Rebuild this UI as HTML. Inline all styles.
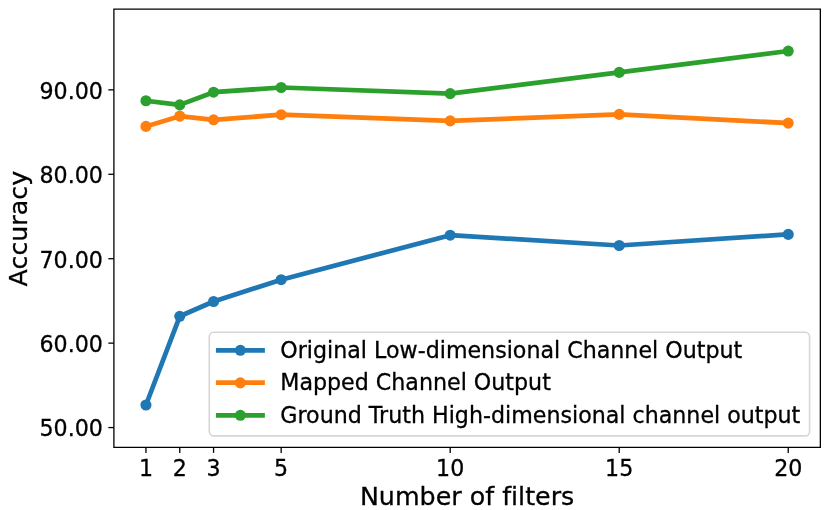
<!DOCTYPE html>
<html><head><meta charset="utf-8"><title>Accuracy vs Number of filters</title>
<style>
html,body{margin:0;padding:0;background:#fff;}
body{width:831px;height:510px;overflow:hidden;}
svg{display:block;}
text{font-family:"DejaVu Sans","Liberation Sans",sans-serif;fill:#000;stroke:#000;stroke-width:0.3px;font-variant-ligatures:none;font-feature-settings:"liga" 0,"clig" 0;}
.t{font-size:22.16px;}
.l{font-size:25.33px;}
</style></head><body>
<svg width="831" height="510" viewBox="0 0 831 510">
<rect width="831" height="510" fill="#fff"/>
<polyline points="145.95,405.04 179.75,316.30 213.56,301.50 281.17,279.70 450.19,235.20 619.22,245.50 788.24,234.40" fill="none" stroke="#1f77b4" stroke-width="4.75" stroke-linejoin="round" stroke-linecap="square"/>
<circle cx="145.95" cy="405.04" r="5.54" fill="#1f77b4"/>
<circle cx="179.75" cy="316.30" r="5.54" fill="#1f77b4"/>
<circle cx="213.56" cy="301.50" r="5.54" fill="#1f77b4"/>
<circle cx="281.17" cy="279.70" r="5.54" fill="#1f77b4"/>
<circle cx="450.19" cy="235.20" r="5.54" fill="#1f77b4"/>
<circle cx="619.22" cy="245.50" r="5.54" fill="#1f77b4"/>
<circle cx="788.24" cy="234.40" r="5.54" fill="#1f77b4"/>
<polyline points="145.95,126.40 179.75,116.15 213.56,119.80 281.17,114.70 450.19,120.85 619.22,114.40 788.24,123.10" fill="none" stroke="#ff7f0e" stroke-width="4.75" stroke-linejoin="round" stroke-linecap="square"/>
<circle cx="145.95" cy="126.40" r="5.54" fill="#ff7f0e"/>
<circle cx="179.75" cy="116.15" r="5.54" fill="#ff7f0e"/>
<circle cx="213.56" cy="119.80" r="5.54" fill="#ff7f0e"/>
<circle cx="281.17" cy="114.70" r="5.54" fill="#ff7f0e"/>
<circle cx="450.19" cy="120.85" r="5.54" fill="#ff7f0e"/>
<circle cx="619.22" cy="114.40" r="5.54" fill="#ff7f0e"/>
<circle cx="788.24" cy="123.10" r="5.54" fill="#ff7f0e"/>
<polyline points="145.95,100.75 179.75,104.85 213.56,92.20 281.17,87.50 450.19,93.60 619.22,72.40 788.24,51.05" fill="none" stroke="#2ca02c" stroke-width="4.75" stroke-linejoin="round" stroke-linecap="square"/>
<circle cx="145.95" cy="100.75" r="5.54" fill="#2ca02c"/>
<circle cx="179.75" cy="104.85" r="5.54" fill="#2ca02c"/>
<circle cx="213.56" cy="92.20" r="5.54" fill="#2ca02c"/>
<circle cx="281.17" cy="87.50" r="5.54" fill="#2ca02c"/>
<circle cx="450.19" cy="93.60" r="5.54" fill="#2ca02c"/>
<circle cx="619.22" cy="72.40" r="5.54" fill="#2ca02c"/>
<circle cx="788.24" cy="51.05" r="5.54" fill="#2ca02c"/>
<line x1="145.95" y1="447.35" x2="145.95" y2="452.89" stroke="#000" stroke-width="1.3"/>
<text class="t" x="145.95" y="475.8" text-anchor="middle">1</text>
<line x1="179.75" y1="447.35" x2="179.75" y2="452.89" stroke="#000" stroke-width="1.3"/>
<text class="t" x="179.75" y="475.8" text-anchor="middle">2</text>
<line x1="213.56" y1="447.35" x2="213.56" y2="452.89" stroke="#000" stroke-width="1.3"/>
<text class="t" x="213.56" y="475.8" text-anchor="middle">3</text>
<line x1="281.17" y1="447.35" x2="281.17" y2="452.89" stroke="#000" stroke-width="1.3"/>
<text class="t" x="281.17" y="475.8" text-anchor="middle">5</text>
<line x1="450.19" y1="447.35" x2="450.19" y2="452.89" stroke="#000" stroke-width="1.3"/>
<text class="t" x="450.19" y="475.8" text-anchor="middle">10</text>
<line x1="619.22" y1="447.35" x2="619.22" y2="452.89" stroke="#000" stroke-width="1.3"/>
<text class="t" x="619.22" y="475.8" text-anchor="middle">15</text>
<line x1="788.24" y1="447.35" x2="788.24" y2="452.89" stroke="#000" stroke-width="1.3"/>
<text class="t" x="788.24" y="475.8" text-anchor="middle">20</text>
<line x1="113.90" y1="427.57" x2="108.36" y2="427.57" stroke="#000" stroke-width="1.3"/>
<text class="t" x="102.9" y="436.47" text-anchor="end">50.00</text>
<line x1="113.90" y1="343.14" x2="108.36" y2="343.14" stroke="#000" stroke-width="1.3"/>
<text class="t" x="102.9" y="352.04" text-anchor="end">60.00</text>
<line x1="113.90" y1="258.71" x2="108.36" y2="258.71" stroke="#000" stroke-width="1.3"/>
<text class="t" x="102.9" y="267.61" text-anchor="end">70.00</text>
<line x1="113.90" y1="174.28" x2="108.36" y2="174.28" stroke="#000" stroke-width="1.3"/>
<text class="t" x="102.9" y="183.18" text-anchor="end">80.00</text>
<line x1="113.90" y1="89.85" x2="108.36" y2="89.85" stroke="#000" stroke-width="1.3"/>
<text class="t" x="102.9" y="98.75" text-anchor="end">90.00</text>
<path d="M113.9 447.35V9.03H820.35V447.35Z" fill="none" stroke="#000" stroke-width="1.3" stroke-linejoin="miter"/>
<text class="l" x="467.1" y="505.2" text-anchor="middle">Number of filters</text>
<text class="l" transform="translate(27.1,228.6) rotate(-90)" text-anchor="middle">Accuracy</text>
<rect x="209.3" y="332.3" width="600.3" height="103.6" rx="4.4" ry="4.4" fill="#fff" fill-opacity="0.8" stroke="#ccc" stroke-opacity="0.8" stroke-width="1.58"/>
<line x1="218.3" y1="350.3" x2="262.5" y2="350.3" stroke="#1f77b4" stroke-width="4.75" stroke-linecap="square"/>
<circle cx="240.35" cy="350.30" r="5.54" fill="#1f77b4"/>
<text class="t" x="280.3" y="358.00">Original Low-dimensional Channel Output</text>
<line x1="218.3" y1="382.6" x2="262.5" y2="382.6" stroke="#ff7f0e" stroke-width="4.75" stroke-linecap="square"/>
<circle cx="240.35" cy="382.90" r="5.54" fill="#ff7f0e"/>
<text class="t" x="280.3" y="390.40">Mapped Channel Output</text>
<line x1="218.3" y1="415.3" x2="262.5" y2="415.3" stroke="#2ca02c" stroke-width="4.75" stroke-linecap="square"/>
<circle cx="240.35" cy="415.30" r="5.54" fill="#2ca02c"/>
<text class="t" x="280.3" y="423.00">Ground Truth High-dimensional channel output</text>
</svg></body></html>
